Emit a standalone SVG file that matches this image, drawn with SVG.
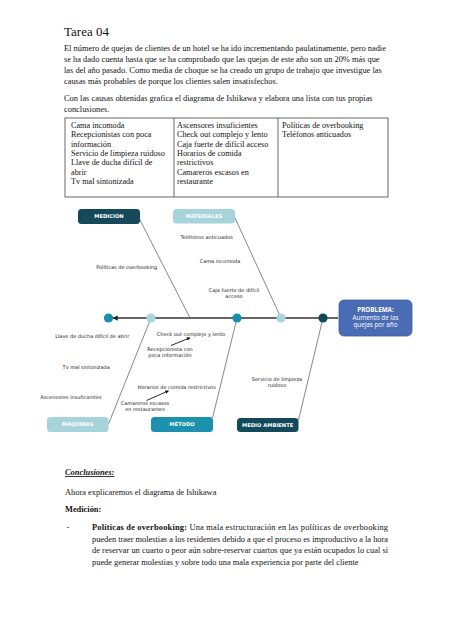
<svg xmlns="http://www.w3.org/2000/svg" width="453" height="640" viewBox="0 0 453 640">
<defs>
<style>
.doc{font-family:"Liberation Serif","Times New Roman",serif;font-size:8.4px;fill:#111}
.tb{font-family:"Liberation Serif","Times New Roman",serif;font-size:8.2px;fill:#111}
.lbl{font-family:"DejaVu Sans","Open Sans",sans-serif;font-size:5px;fill:#222;text-anchor:middle}
.bx{font-family:"DejaVu Sans","Open Sans",sans-serif;font-size:5.2px;font-weight:bold;text-anchor:middle;fill:#fff}
.pb{font-family:"Open Sans","DejaVu Sans",sans-serif;font-size:6.3px;text-anchor:middle;fill:#fff}
.br{stroke:#6a6a6a;stroke-width:0.8;fill:none}
.ar{stroke:#111;stroke-width:0.9;fill:none}
</style>
<marker id="ah" viewBox="0 0 10 10" refX="9" refY="5" markerWidth="4" markerHeight="4" orient="auto"><path d="M0,0 L10,5 L0,10 z" fill="#111"/></marker>
<marker id="sp" viewBox="0 0 10 10" refX="9" refY="5" markerWidth="3.5" markerHeight="3.5" orient="auto"><path d="M0,0 L10,5 L0,10 z" fill="#222"/></marker>
</defs>
<rect width="453" height="640" fill="#fff"/>

<g id="header">
<text x="64" y="36" font-family="Liberation Serif,serif" font-size="13" fill="#111">Tarea 04</text>
<text class="doc" x="64" y="51">El número de quejas de clientes de un hotel se ha ido incrementando paulatinamente, pero nadie</text>
<text class="doc" x="64" y="62">se ha dado cuenta hasta que se ha comprobado que las quejas de este año son un 20% más que</text>
<text class="doc" x="64" y="73">las del año pasado. Como media de choque se ha creado un grupo de trabajo que investigue las</text>
<text class="doc" x="64" y="84">causas más probables de porque los clientes salen insatisfechos.</text>
<text class="doc" x="64" y="101">Con las causas obtenidas grafica el diagrama de Ishikawa y elabora una lista con tus propias</text>
<text class="doc" x="64" y="112">conclusiones.</text>
</g>

<g id="table">
<rect x="65" y="118" width="323" height="79" fill="none" stroke="#444" stroke-width="0.8"/>
<line x1="174" y1="118" x2="174" y2="197" stroke="#444" stroke-width="0.8"/>
<line x1="278" y1="118" x2="278" y2="197" stroke="#444" stroke-width="0.8"/>
<text class="tb" x="71" y="128">Cama incomoda</text>
<text class="tb" x="71" y="137.3">Recepcionistas con poca</text>
<text class="tb" x="71" y="146.6">información</text>
<text class="tb" x="71" y="155.9">Servicio de limpieza ruidoso</text>
<text class="tb" x="71" y="165.2">Llave de ducha difícil de</text>
<text class="tb" x="71" y="174.5">abrir</text>
<text class="tb" x="71" y="183.8">Tv mal sintonizada</text>
<text class="tb" x="177" y="128">Ascensores insuficientes</text>
<text class="tb" x="177" y="137.3">Check out complejo y lento</text>
<text class="tb" x="177" y="146.6">Caja fuerte de difícil acceso</text>
<text class="tb" x="177" y="155.9">Horarios de comida</text>
<text class="tb" x="177" y="165.2">restrictivos</text>
<text class="tb" x="177" y="174.5">Camareros escasos en</text>
<text class="tb" x="177" y="183.8">restaurante</text>
<text class="tb" x="282" y="128">Políticas de overbooking</text>
<text class="tb" x="282" y="137.3">Teléfonos anticuados</text>
</g>

<g id="connectors">
<line x1="338" y1="318" x2="113" y2="318" stroke="#333" stroke-width="1.5" marker-end="url(#sp)"/>
<line class="br" x1="139.5" y1="219" x2="190" y2="318"/>
<line class="br" x1="235" y1="218" x2="281" y2="318"/>
<line class="br" x1="108.5" y1="424" x2="151" y2="318"/>
<line class="br" x1="212.5" y1="418" x2="237" y2="318"/>
<line class="br" x1="298.5" y1="420" x2="323" y2="318"/>
<line class="ar" x1="171" y1="345.5" x2="190" y2="337.8" marker-end="url(#ah)"/>
<line class="ar" x1="146.5" y1="400.5" x2="168.5" y2="390.8" marker-end="url(#ah)"/>
</g>

<g id="dots">
<circle cx="108.5" cy="318" r="4.6" fill="#1a8fad"/>
<circle cx="151" cy="318" r="4.6" fill="#a9d6dc"/>
<circle cx="237" cy="318" r="4.6" fill="#1a8fad"/>
<circle cx="281" cy="318" r="4.6" fill="#a9d6dc"/>
<circle cx="323" cy="318" r="4.6" fill="#0f4a58"/>
</g>

<g id="medicion"><rect x="78" y="209" width="62" height="15" rx="3.5" fill="#15495a"/><text class="bx" x="109" y="218.3">MEDICIÓN</text></g>
<g id="materiales"><rect x="173" y="209" width="62" height="14.5" rx="3.5" fill="#a6d4da"/><text class="bx" x="204" y="218.1" fill="#eaf6f7">MATERIALES</text></g>
<g id="maquinas"><rect x="47" y="417" width="61.5" height="15" rx="3.5" fill="#a6d4da"/><text class="bx" x="77.7" y="426.3">MÁQUINAS</text></g>
<g id="metodo"><rect x="151" y="417" width="62" height="15" rx="3.5" fill="#1b91ad"/><text class="bx" x="182" y="426.3">MÉTODO</text></g>
<g id="medio-ambiente"><rect x="237" y="418" width="61.5" height="14" rx="3.5" fill="#134a5a"/><text class="bx" x="267.7" y="426.8">MEDIO AMBIENTE</text></g>
<g id="problema"><rect x="339" y="300" width="73" height="36" rx="5" fill="#4a6cb4" stroke="#3d5ea3" stroke-width="0.8"/>
<text class="pb" x="375.5" y="312" font-weight="bold" font-size="5.8">PROBLEMA:</text>
<text class="pb" x="375.5" y="319.6">Aumento de las</text>
<text class="pb" x="375.5" y="327.2">quejas por año</text></g>

<g id="labels">
<text class="lbl" x="206.7" y="239">Teléfonos anticuados</text>
<text class="lbl" x="126.7" y="268.5">Políticas de overbooking</text>
<text class="lbl" x="220" y="263">Cama incomoda</text>
<text class="lbl" x="234" y="291.5">Caja fuerte de difícil</text>
<text class="lbl" x="234" y="297.5">acceso</text>
<text class="lbl" x="92.2" y="338">Llave de ducha difícil de abrir</text>
<text class="lbl" x="86.2" y="369">Tv mal sintonizada</text>
<text class="lbl" x="71" y="399">Ascensores insuficientes</text>
<text class="lbl" x="191" y="336">Check out complejo y lento</text>
<text class="lbl" x="170" y="350.5">Recepcionista con</text>
<text class="lbl" x="170" y="356.5">poca información</text>
<text class="lbl" x="176.7" y="389">Horarios de comida restrictivos</text>
<text class="lbl" x="145" y="404.5">Camareros escasos</text>
<text class="lbl" x="145" y="410.5">en restaurantes</text>
<text class="lbl" x="277" y="380.5">Servicio de limpieza</text>
<text class="lbl" x="277" y="386.5">ruidoso</text>
</g>

<g id="conclusiones">
<text class="doc" x="65" y="475" font-weight="bold" font-style="italic" text-decoration="underline">Conclusiones:</text>
<text class="doc" x="65" y="495">Ahora explicaremos el diagrama de Ishikawa</text>
<text class="doc" x="65" y="512" font-weight="bold">Medición:</text>
<text class="doc" x="66.5" y="530">-</text>
<text class="doc" x="92" y="530" textLength="296" lengthAdjust="spacing"><tspan font-weight="bold">Políticas de overbooking:</tspan> Una mala estructuración en las políticas de overbooking</text>
<text class="doc" x="92" y="541.7" textLength="296" lengthAdjust="spacing">pueden traer molestias a los residentes debido a que el proceso es improductivo a la hora</text>
<text class="doc" x="92" y="553.4" textLength="296" lengthAdjust="spacing">de reservar un cuarto o peor aún sobre-reservar cuartos que ya están ocupados lo cual si</text>
<text class="doc" x="92" y="565">puede generar molestias y sobre todo una mala experiencia por parte del cliente</text>
</g>
</svg>
